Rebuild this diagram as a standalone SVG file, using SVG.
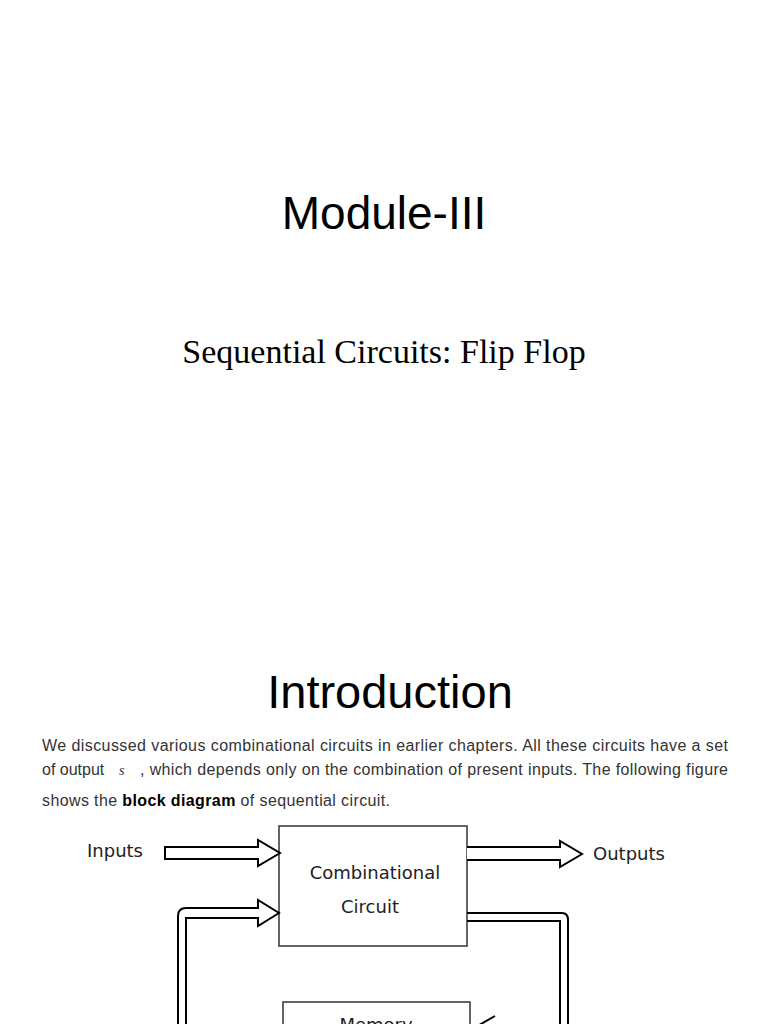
<svg xmlns="http://www.w3.org/2000/svg" width="768" height="1024" viewBox="0 0 768 1024">
<style>
.s{fill:white;stroke:#000;stroke-width:2}
.b{fill:none;stroke:#333;stroke-width:1.5}
.t{font-family:"DejaVu Sans",sans-serif;font-size:18px;fill:#222}
.p{font-family:"Liberation Sans",Arial,sans-serif;font-size:16px;fill:#333}
</style>
<rect width="768" height="1024" fill="#fff"/>
<text x="384" y="229" text-anchor="middle" font-family="Liberation Sans,Arial,sans-serif" font-size="46">Module-III</text>
<text x="384" y="363" text-anchor="middle" font-family="Liberation Serif,Times New Roman,serif" font-size="34">Sequential Circuits: Flip Flop</text>
<text x="390" y="708" text-anchor="middle" font-family="Liberation Sans,Arial,sans-serif" font-size="47">Introduction</text>
<text class="p" x="42" y="751" textLength="686">We discussed various combinational circuits in earlier chapters. All these circuits have a set</text>
<text class="p" x="42" y="775">of output</text>
<text x="119" y="775" font-family="Liberation Serif,serif" font-style="italic" font-size="14" fill="#333">s</text>
<text class="p" x="140" y="775" textLength="588">, which depends only on the combination of present inputs. The following figure</text>
<text class="p" x="42" y="806" textLength="348">shows the <tspan font-weight="bold" fill="#000">block diagram</tspan> of sequential circuit.</text>
<g id="comb"><rect class="b" x="279" y="826" width="188" height="120"/>
<text class="t" x="375" y="879" text-anchor="middle">Combinational</text>
<text class="t" x="370" y="913" text-anchor="middle">Circuit</text></g>
<g id="memory"><rect class="b" x="283" y="1002" width="187" height="40"/>
<text class="t" x="376" y="1031" text-anchor="middle">Memory</text></g>
<g id="inputs"><text class="t" x="87" y="857">Inputs</text></g>
<g id="outputs"><text class="t" x="593" y="860">Outputs</text></g>
<g id="connectors" fill="white" stroke="#000" stroke-width="2">
<path d="M165,847 H258 V840 L280,853 L258,866 V859 H165 Z"/>
<path d="M467,847 H560 V841 L582,854 L560,867 V860 H467"/>
<path d="M178,1030 V916 Q178,908 186,908 H258 V900 L279,913 L258,926 V918 H186 V1030"/>
<path d="M467,913 H562 Q568,913 568,920 V1030 M560,1030 V921 H467"/>
<path d="M495,1016 L481,1024 L495,1032"/>
</g>
</svg>
